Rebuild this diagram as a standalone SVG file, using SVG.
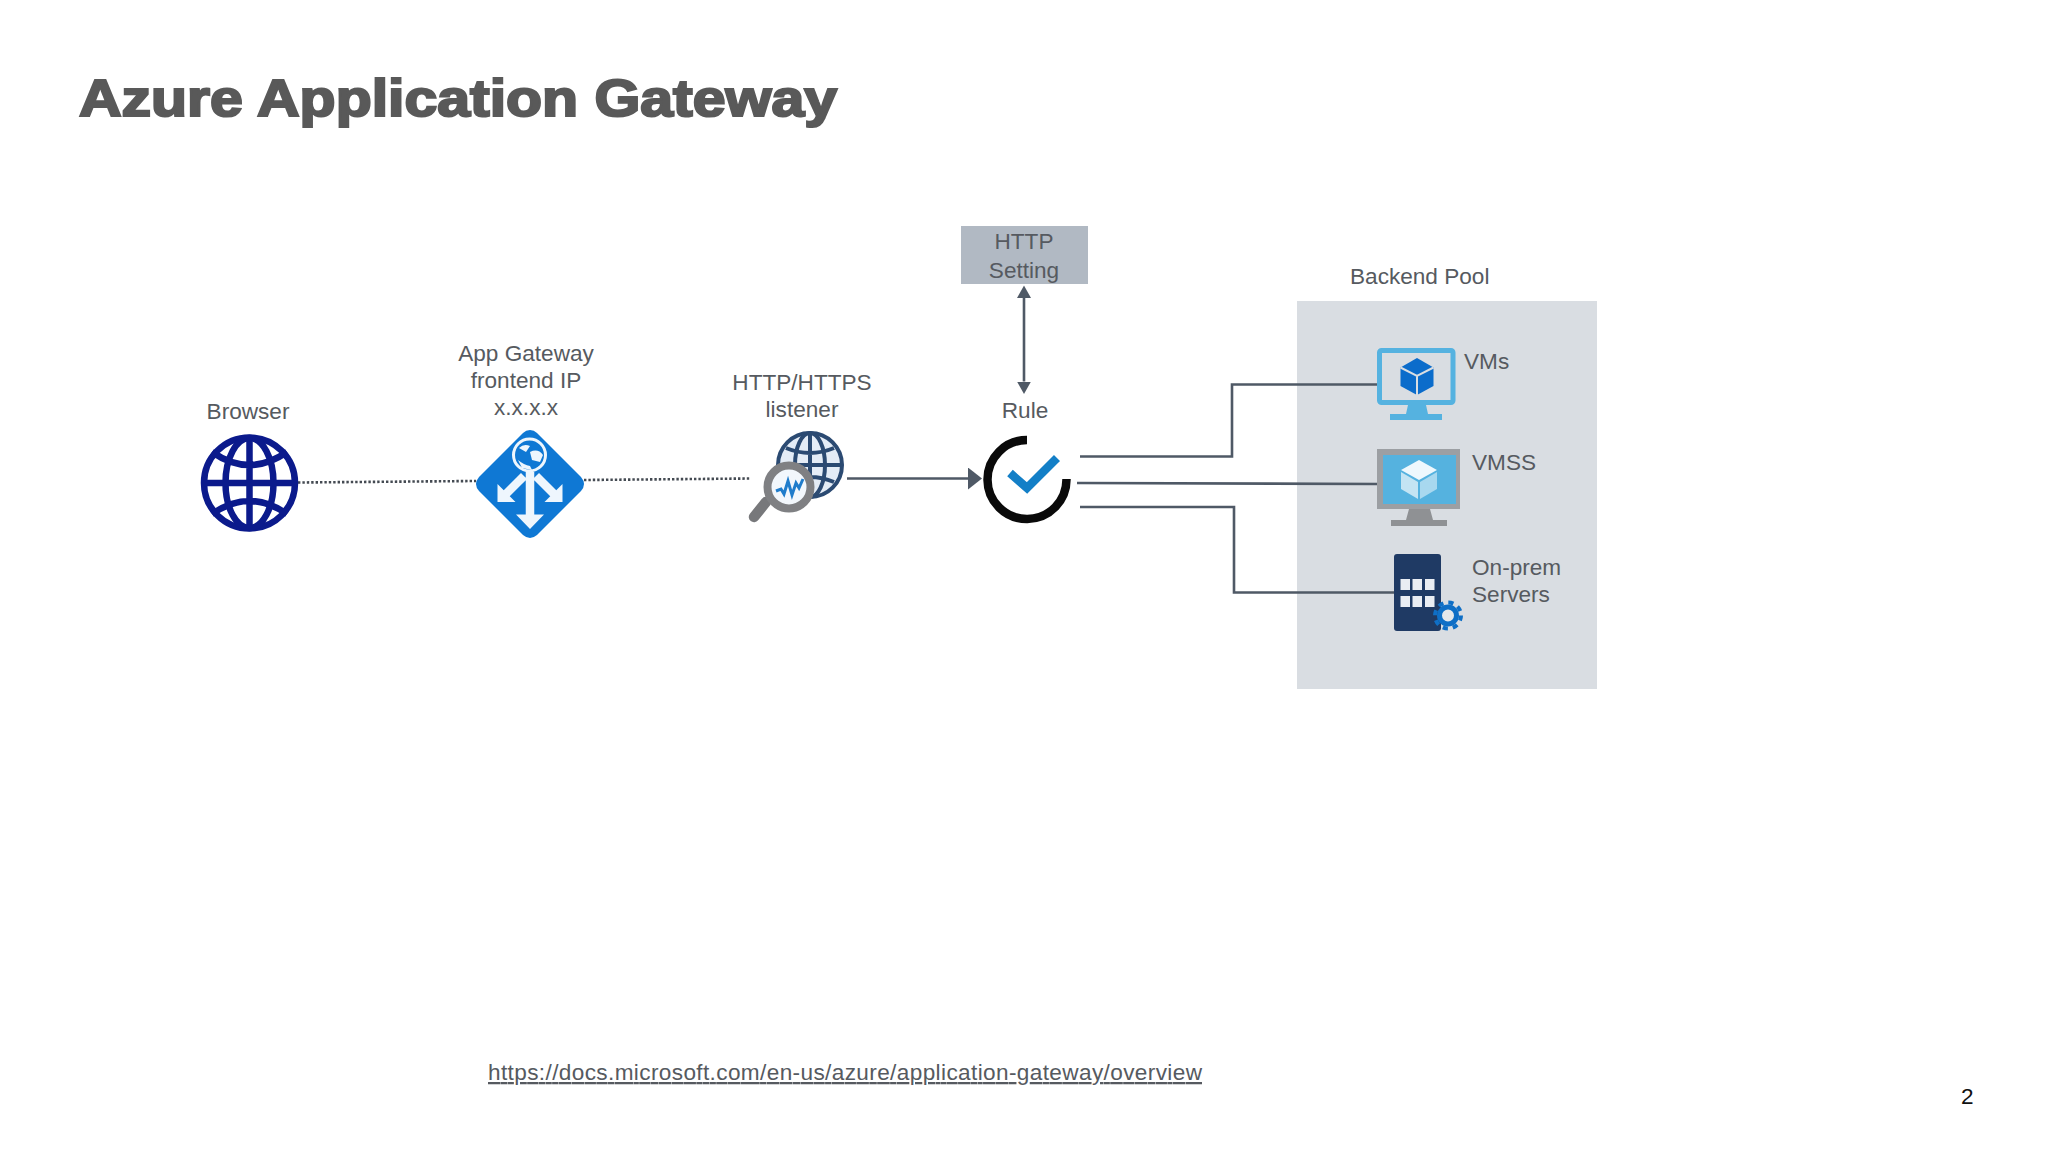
<svg xmlns="http://www.w3.org/2000/svg" width="2048" height="1152" viewBox="0 0 2048 1152">
<style>
text{font-family:"Liberation Sans",Arial,sans-serif;font-size:22.600px;fill:#565a60}
.c{text-anchor:middle}
.title{font-size:52px;font-weight:700;fill:#595959;stroke:#595959;stroke-width:2.200px}
.url{text-decoration:underline}
.solid{fill:none;stroke:#4f5966;stroke-width:2.600}
.dot{fill:none;stroke:#444a52;stroke-width:2.600;stroke-dasharray:2.400 2}
.navy{fill:none;stroke:#0b1a8c;stroke-width:6.500}
.lst{fill:none;stroke:#2b4a72;stroke-width:4}
.wht{fill:none;stroke:#eef6fd;stroke-width:8.500}
</style>
<defs>
<marker id="hs" markerUnits="userSpaceOnUse" markerWidth="15" markerHeight="15" refX="0" refY="7" orient="auto-start-reverse"><path d="M0 0L12.500 7L0 14Z" fill="#4f5966"/></marker>
<marker id="hb" markerUnits="userSpaceOnUse" markerWidth="15" markerHeight="24" refX="0" refY="11" orient="auto"><path d="M0 0L14 11L0 22Z" fill="#4f5966"/></marker>
</defs>

<rect width="2048" height="1152" fill="#fff"/>
<text class="title" x="79" y="116" textLength="758" lengthAdjust="spacingAndGlyphs">Azure Application Gateway</text>

<g id="backend-pool">
<rect x="1297" y="301" width="300" height="388" fill="#d9dde2"/>
<text x="1350" y="283.500">Backend Pool</text>
</g>

<g id="connectors">
<path class="dot" d="M298 482.500L476 481"/>
<path class="dot" d="M584 480L751 478.500"/>
<path class="solid" d="M847 478.500H968" marker-end="url(#hb)"/>
<path class="solid" d="M1024 298V381.500" marker-start="url(#hs)" marker-end="url(#hs)"/>
<path class="solid" d="M1080 456.500H1232V384.500H1378"/>
<path class="solid" d="M1077 483L1378 484"/>
<path class="solid" d="M1080 507H1234V592.500H1395"/>
</g>

<g id="http-setting">
<rect x="961" y="226" width="127" height="58" fill="#b1b9c3"/>
<text class="c" x="1024" y="249">HTTP</text>
<text class="c" x="1024" y="278">Setting</text>
</g>

<g id="browser">
<text class="c" x="248" y="419">Browser</text>
<circle cx="249.500" cy="483" r="45.500" fill="#fff" stroke="#0b1a8c" stroke-width="6.500"/>
<ellipse class="navy" cx="249.500" cy="483" rx="24" ry="45"/>
<path class="navy" d="M249.500 438V528M204 483H295M212 452Q249.500 478 287 452M212 514Q249.500 488 287 514"/>
</g>

<g id="app-gateway">
<text class="c" x="526" y="361">App Gateway</text>
<text class="c" x="526" y="388">frontend IP</text>
<text class="c" x="526" y="415">x.x.x.x</text>
<path d="M530 430Q534 430 537 433L581 477Q587 484 581 491L537 535Q530 541 523 535L479 491Q473 484 479 477L523 433Q526 430 530 430Z" fill="#0f78d4"/>
<path class="wht" d="M530 472V516M524 476L503 497M536 476L557 497"/>
<circle cx="529.500" cy="455" r="16" fill="#0f78d4" stroke="#eef6fd" stroke-width="3"/>
<path d="M519 448Q524 443 530 446L526 452ZM530 452Q538 448 543 455L540 462L532 460ZM518 460Q524 465 530 466L532 470L522 468Z" fill="#eef6fd"/>
<path d="M516 514.500H544L530 529ZM497.500 484V502H515.500ZM562.500 484V502H544.500Z" fill="#eef6fd"/>
</g>

<g id="listener">
<text class="c" x="802" y="389.500">HTTP/HTTPS</text>
<text class="c" x="802" y="417">listener</text>
<circle cx="810" cy="465" r="32" fill="#e4ecf6" stroke="#2b4a72" stroke-width="4"/>
<ellipse class="lst" cx="810" cy="465" rx="15" ry="32"/>
<path class="lst" d="M810 433V497M778 465H842M786 448Q810 458 834 448M786 482Q810 472 834 482"/>
<path d="M766 502L754 517" stroke="#77787b" stroke-width="10.500" stroke-linecap="round"/>
<circle cx="789" cy="487" r="21.500" fill="#f2f7fc" stroke="#7f8083" stroke-width="8"/>
<path d="M776 491L781 489L784 494L788 481L792 495L796 483L799 488L803 479" fill="none" stroke="#1f7ccb" stroke-width="3"/>
</g>

<g id="rule">
<text class="c" x="1025" y="418">Rule</text>
<path d="M1027 440A39.500 39.500 0 1 0 1066.500 479" fill="none" stroke="#0a0a0a" stroke-width="8.500"/>
<path d="M1010 473L1027 488L1057 458" fill="none" stroke="#137fc7" stroke-width="8.500"/>
</g>

<g id="vms">
<rect x="1379.500" y="350.500" width="73.500" height="52" rx="2" fill="none" stroke="#55b2e0" stroke-width="5"/>
<path d="M1408 405H1426L1428 414H1442V420H1390V414H1406Z" fill="#55b2e0"/>
<path d="M1417 358L1433.500 367.500V386L1417 395L1400.500 386V367.500Z" fill="#0b6ccb"/>
<path d="M1417 395V376M1400.500 367.500L1417 376L1433.500 367.500" fill="none" stroke="#d9dde2" stroke-width="2"/>
<text x="1464" y="369">VMs</text>
</g>

<g id="vmss">
<rect x="1377" y="449" width="83" height="60" fill="#9c9fa3"/>
<rect x="1383" y="455" width="73" height="49" fill="#55b2df"/>
<path d="M1409 509H1430L1433 520H1447V526H1391V520H1406Z" fill="#8f9194"/>
<path d="M1419 460L1437 470L1419 480L1401 470Z" fill="#eef8fd"/>
<path d="M1401 472L1418 482V499L1401 489Z" fill="#c4e4f3"/>
<path d="M1437 472L1420 482V499L1437 489Z" fill="#a8d8ef"/>
<text x="1472" y="470">VMSS</text>
</g>

<g id="on-prem">
<rect x="1394" y="554" width="47" height="77" rx="3" fill="#1f3a64"/>
<g fill="#e9edf3">
<rect x="1400.500" y="579" width="9.500" height="11"/><rect x="1412.500" y="579" width="9.500" height="11"/><rect x="1425" y="579" width="9.500" height="11"/>
<rect x="1400.500" y="596" width="9.500" height="11"/><rect x="1412.500" y="596" width="9.500" height="11"/><rect x="1425" y="596" width="9.500" height="11"/>
</g>
<circle cx="1448" cy="615.500" r="8.500" fill="#e6e8ea" stroke="#0f6fc6" stroke-width="5"/>
<circle cx="1448" cy="615.500" r="13" fill="none" stroke="#0f6fc6" stroke-width="4" stroke-dasharray="5.200 5"/>
<text x="1472" y="575">On-prem</text>
<text x="1472" y="602">Servers</text>
</g>

<text class="url" x="488" y="1080" textLength="714">https://docs.microsoft.com/en-us/azure/application-gateway/overview</text>
<text x="1961" y="1104" style="fill:#111">2</text>
</svg>
